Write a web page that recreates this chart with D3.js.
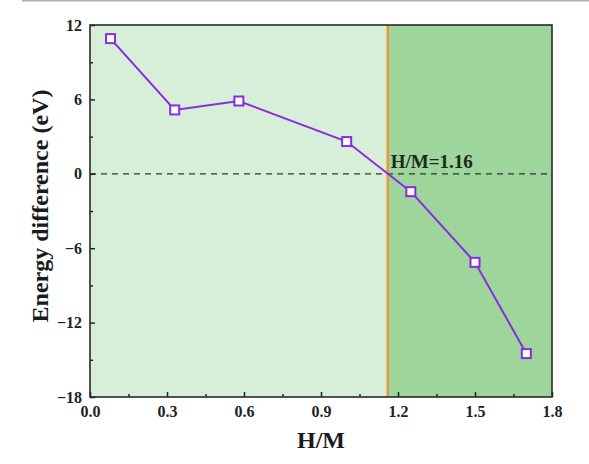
<!DOCTYPE html>
<html>
<head>
<meta charset="utf-8">
<script src="https://cdn.jsdelivr.net/npm/d3@7"></script>
<style>
  body { margin: 0; background: #fff; }
  svg text { font-family: "Liberation Serif", "Times New Roman", serif; font-weight: bold; }
</style>
</head>
<body>
<div id="chart-area"></div>
<script>
// H/M ratio and energy difference (eV)
const ratio = [0.08, 0.33, 0.58, 1.0, 1.25, 1.5, 1.7];
const energy = [10.9, 5.15, 5.87, 2.6, -1.44, -7.14, -14.5];
const xTicks = [0.0, 0.3, 0.6, 0.9, 1.2, 1.5, 1.8];
const yTicks = [-18, -12, -6, 0, 6, 12];
const xMinor = [0.15, 0.45, 0.75, 1.05, 1.35, 1.65];
const yMinor = [-15, -9, -3, 3, 9];
const threshold = 1.16;

const width = 589;
const height = 464;
const margin = {top: 25, right: 37, bottom: 67, left: 90};

const svg = d3.select("#chart-area")
    .append("svg")
    .attr("width", width)
    .attr("height", height);

// thin grey rule along the top of the figure
svg.append("line")
    .attr("x1", 22).attr("x2", width)
    .attr("y1", 0.75).attr("y2", 0.75)
    .attr("stroke", "#b0b0b0")
    .attr("stroke-width", 1.5);

const x = d3.scaleLinear()
    .domain([0, 1.8])
    .range([margin.left, width - margin.right]);

const y = d3.scaleLinear()
    .domain([-18, 12])
    .range([height - margin.bottom, margin.top]);

// two shaded regions split at the threshold
svg.append("rect")
    .attr("x", x(0)).attr("y", y(12))
    .attr("width", x(threshold) - x(0))
    .attr("height", y(-18) - y(12))
    .attr("fill", "#d7efd8");

svg.append("rect")
    .attr("x", x(threshold)).attr("y", y(12))
    .attr("width", x(1.8) - x(threshold))
    .attr("height", y(-18) - y(12))
    .attr("fill", "#9dd59b");

// zero line
svg.append("line")
    .attr("x1", x(0)).attr("x2", x(1.8))
    .attr("y1", y(0)).attr("y2", y(0))
    .attr("stroke", "#333")
    .attr("stroke-width", 1.3)
    .attr("stroke-dasharray", "6,5");

// threshold line
svg.append("line")
    .attr("x1", x(threshold)).attr("x2", x(threshold))
    .attr("y1", y(12)).attr("y2", y(-18))
    .attr("stroke", "#e29a3a")
    .attr("stroke-width", 2.5);

svg.append("text")
    .attr("x", x(threshold) + 3)
    .attr("y", y(0) - 6)
    .attr("font-size", 19)
    .attr("fill", "#1c2a1c")
    .text("H/M=1.16");

// axes, ticks pointing inward
const xAxis = svg.append("g")
    .attr("transform", `translate(0,${y(-18)})`)
    .call(d3.axisBottom(x).tickValues(xTicks).tickFormat(d3.format(".1f"))
        .tickSizeInner(-5).tickSizeOuter(0).tickPadding(9));

svg.append("g")
    .attr("transform", `translate(0,${y(-18)})`)
    .call(d3.axisBottom(x).tickValues(xMinor).tickFormat("")
        .tickSizeInner(-3).tickSizeOuter(0))
    .select(".domain").remove();

const yAxis = svg.append("g")
    .attr("transform", `translate(${x(0)},0)`)
    .call(d3.axisLeft(y).tickValues(yTicks)
        .tickSizeInner(-5).tickSizeOuter(0).tickPadding(8));

svg.append("g")
    .attr("transform", `translate(${x(0)},0)`)
    .call(d3.axisLeft(y).tickValues(yMinor).tickFormat("")
        .tickSizeInner(-3).tickSizeOuter(0))
    .select(".domain").remove();

svg.selectAll(".tick line").attr("stroke", "#222").attr("stroke-width", 1.5);
svg.selectAll(".domain").remove();
[xAxis, yAxis].forEach(a => a.selectAll("text")
    .attr("font-size", 16)
    .attr("fill", "#222"));

// frame
svg.append("rect")
    .attr("x", x(0)).attr("y", y(12))
    .attr("width", x(1.8) - x(0))
    .attr("height", y(-18) - y(12))
    .attr("fill", "none")
    .attr("stroke", "#2a2a2a")
    .attr("stroke-width", 1.6);

// data line and markers
const points = ratio.map((r, i) => ({r: r, e: energy[i]}));

svg.append("path")
    .datum(points)
    .attr("fill", "none")
    .attr("stroke", "#8a2be2")
    .attr("stroke-width", 2)
    .attr("d", d3.line().x(d => x(d.r)).y(d => y(d.e)));

const size = 9;
svg.append("g")
    .selectAll("rect")
    .data(points)
    .join("rect")
    .attr("x", d => x(d.r) - size / 2)
    .attr("y", d => y(d.e) - size / 2)
    .attr("width", size)
    .attr("height", size)
    .attr("fill", "#fff")
    .attr("stroke", "#8a2be2")
    .attr("stroke-width", 2);

// axis titles
svg.append("text")
    .attr("x", (x(0) + x(1.8)) / 2)
    .attr("y", 448)
    .attr("text-anchor", "middle")
    .attr("font-size", 24)
    .attr("fill", "#1a1a1a")
    .text("H/M");

svg.append("text")
    .attr("transform", `translate(48,${(y(12) + y(-18)) / 2 - 5}) rotate(-90)`)
    .attr("text-anchor", "middle")
    .attr("font-size", 24)
    .attr("fill", "#1a1a1a")
    .text("Energy difference (eV)");
</script>
</body>
</html>
